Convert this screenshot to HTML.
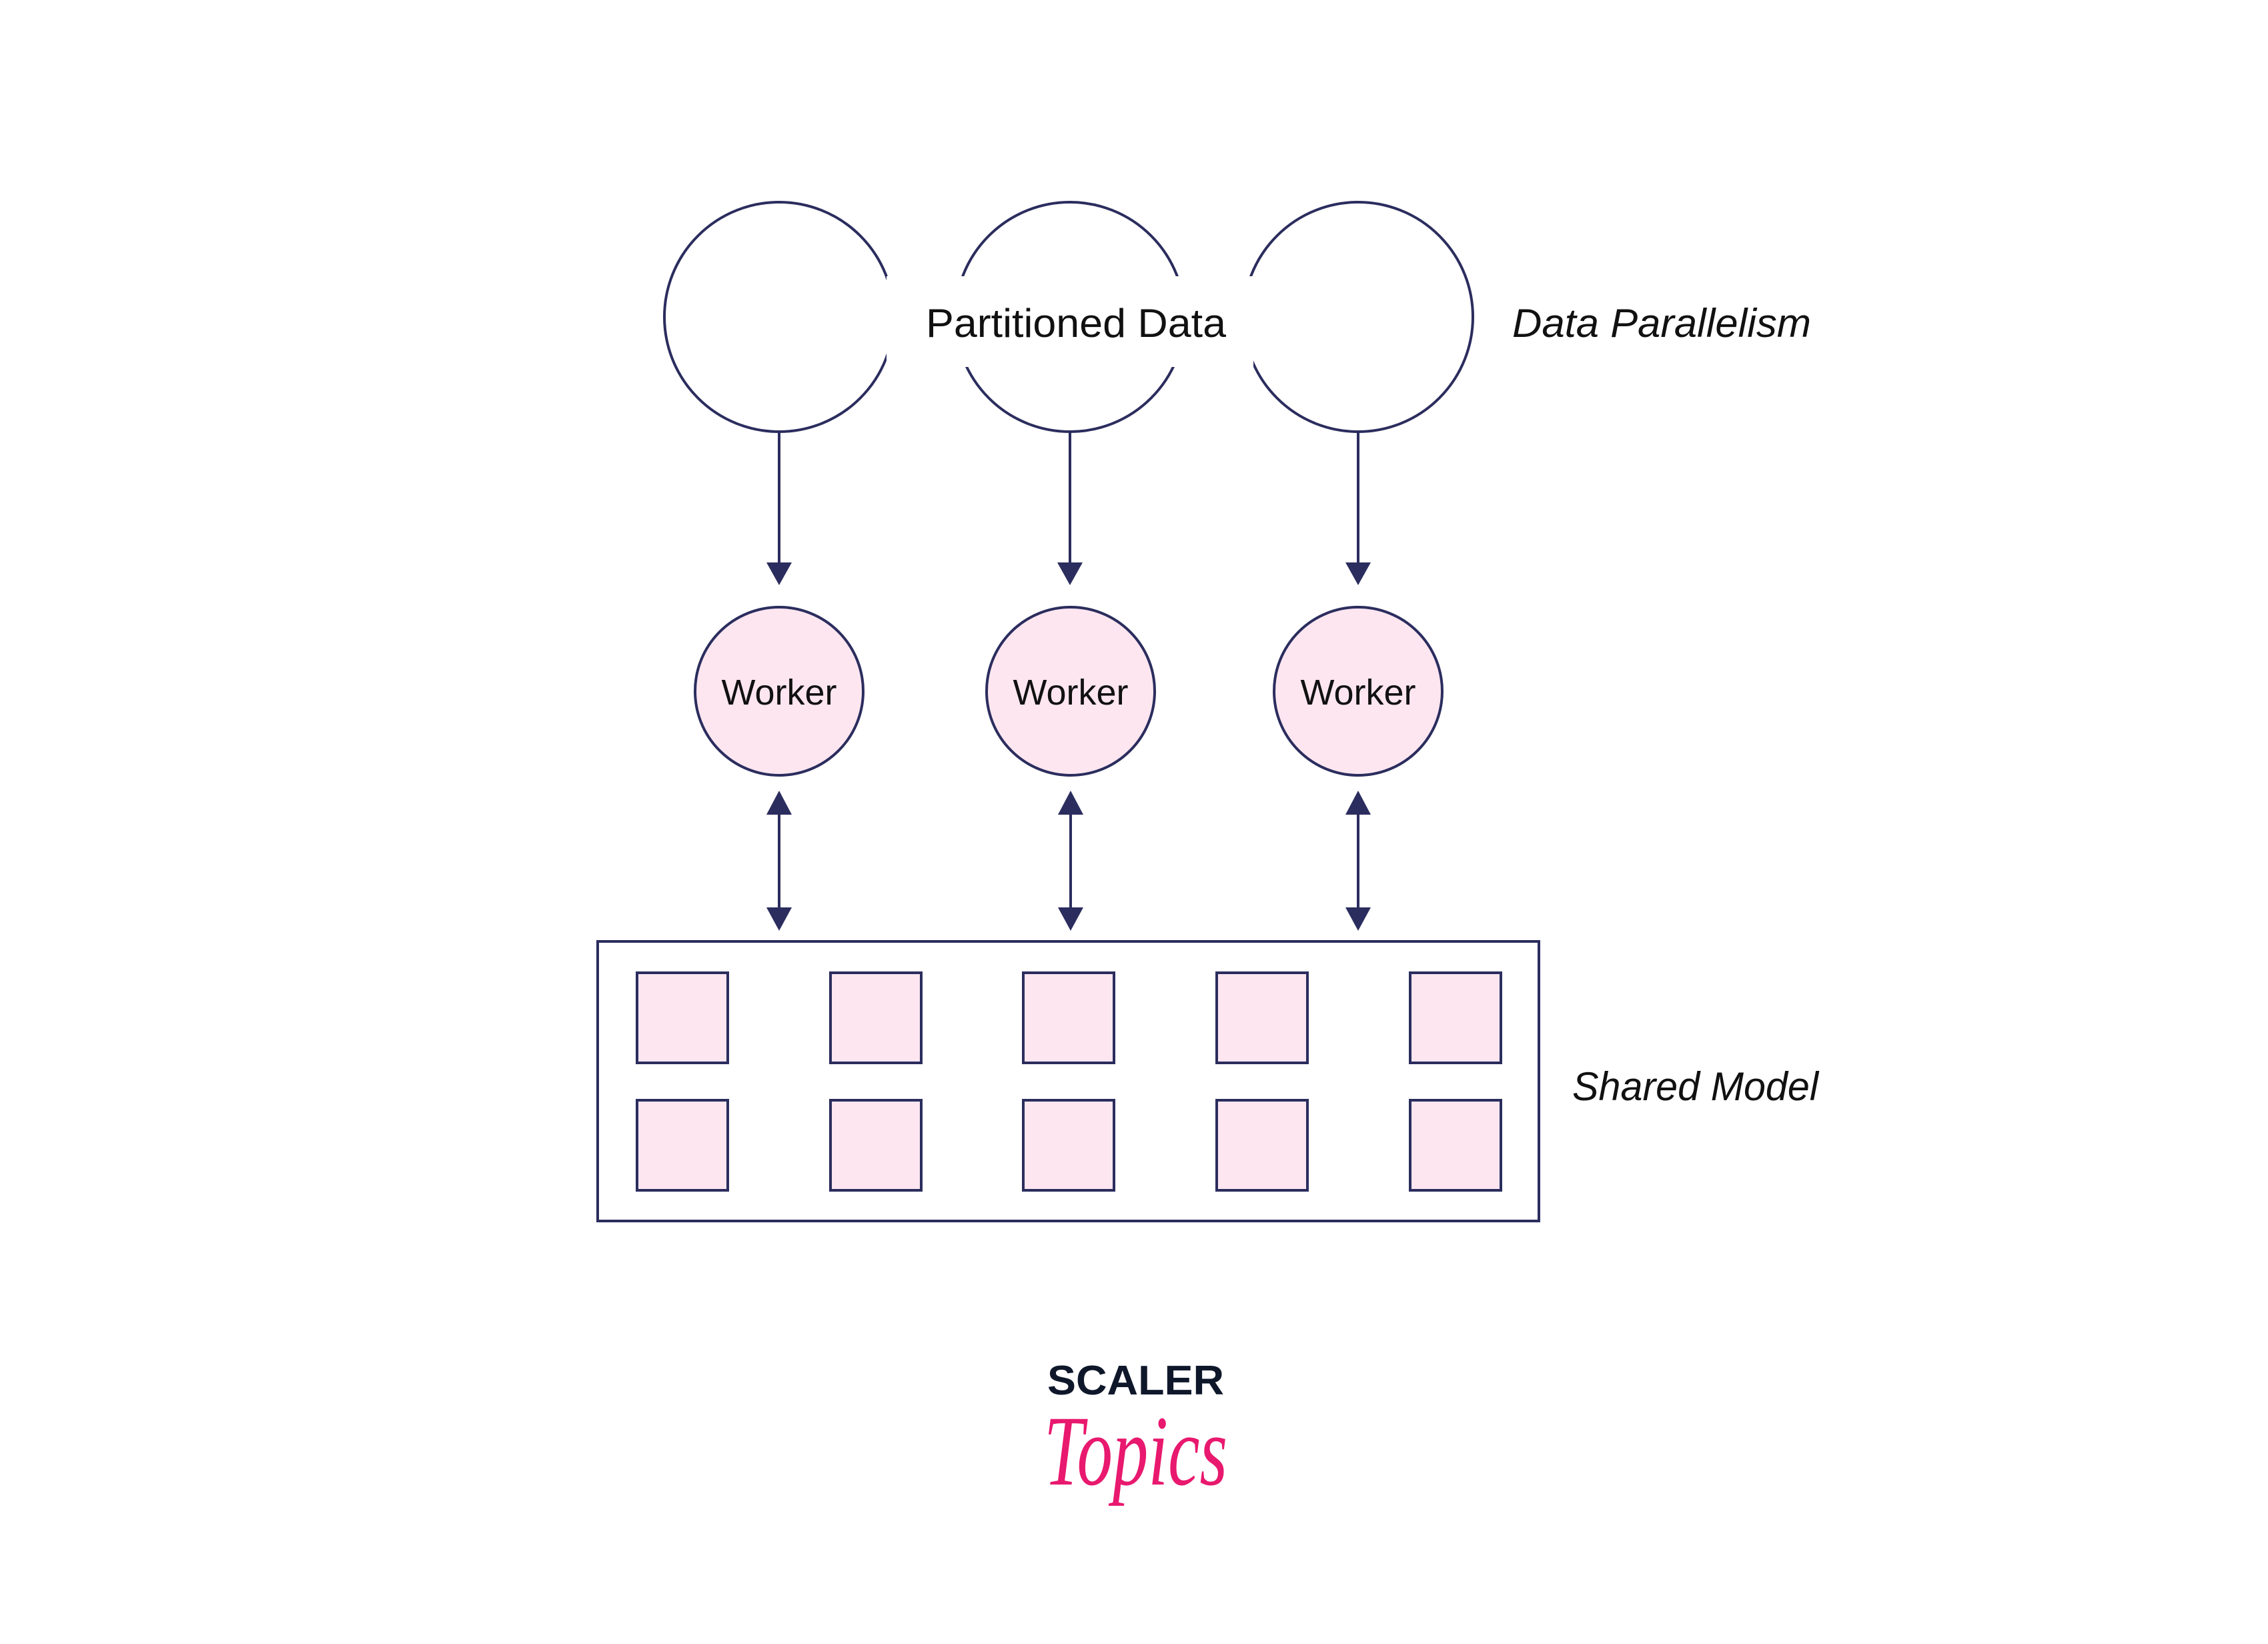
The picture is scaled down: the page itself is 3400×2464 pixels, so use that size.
<!DOCTYPE html>
<html><head><meta charset="utf-8"><style>
html,body{margin:0;padding:0;background:#fff;}
svg{display:block;}
</style></head><body>
<svg width="3400" height="2464" viewBox="0 0 3400 2464" xmlns="http://www.w3.org/2000/svg">
<defs>
<marker id="ah" viewBox="0 0 10 10" refX="10" refY="5" markerWidth="10" markerHeight="10" markerUnits="userSpaceOnUse" orient="auto-start-reverse">
</marker>
</defs>
<rect width="3400" height="2464" fill="#fff"/>
<g fill="none" stroke="#2b2d5e" stroke-width="4">
<circle cx="1168" cy="475" r="172"/>
<circle cx="1604" cy="475" r="172"/>
<circle cx="2036" cy="475" r="172"/>
</g>
<rect x="1329" y="414" width="550" height="136" fill="#fff"/>
<text x="1613" y="505" font-family="Liberation Sans, sans-serif" font-size="60" text-anchor="middle" textLength="450" lengthAdjust="spacingAndGlyphs" fill="#111">Partitioned Data</text>
<text x="2267" y="505" font-family="Liberation Sans, sans-serif" font-style="italic" font-size="60" textLength="448" lengthAdjust="spacingAndGlyphs" fill="#111">Data Parallelism</text>
<g stroke="#2b2d5e" stroke-width="4" fill="#2b2d5e">
<line x1="1168" y1="648" x2="1168" y2="845"/>
<line x1="1604" y1="648" x2="1604" y2="845"/>
<line x1="2036" y1="648" x2="2036" y2="845"/>
<polygon points="1149,843 1187,843 1168,877" stroke="none"/>
<polygon points="1585,843 1623,843 1604,877" stroke="none"/>
<polygon points="2017,843 2055,843 2036,877" stroke="none"/>
</g>
<g fill="#fde6f0" stroke="#2b2d5e" stroke-width="4">
<circle cx="1168" cy="1036" r="126"/>
<circle cx="1605" cy="1036" r="126"/>
<circle cx="2036" cy="1036" r="126"/>
</g>
<g font-family="Liberation Sans, sans-serif" font-size="54" text-anchor="middle" fill="#111">
<text x="1168" y="1056" textLength="173" lengthAdjust="spacingAndGlyphs">Worker</text>
<text x="1605" y="1056" textLength="173" lengthAdjust="spacingAndGlyphs">Worker</text>
<text x="2036" y="1056" textLength="173" lengthAdjust="spacingAndGlyphs">Worker</text>
</g>
<g stroke="#2b2d5e" stroke-width="4" fill="#2b2d5e">
<line x1="1168" y1="1215" x2="1168" y2="1365"/>
<line x1="1605" y1="1215" x2="1605" y2="1365"/>
<line x1="2036" y1="1215" x2="2036" y2="1365"/>
<polygon points="1168,1185 1187,1221 1149,1221" stroke="none"/>
<polygon points="1605,1185 1624,1221 1586,1221" stroke="none"/>
<polygon points="2036,1185 2055,1221 2017,1221" stroke="none"/>
<polygon points="1149,1360 1187,1360 1168,1395" stroke="none"/>
<polygon points="1586,1360 1624,1360 1605,1395" stroke="none"/>
<polygon points="2017,1360 2055,1360 2036,1395" stroke="none"/>
</g>
<rect x="896" y="1411" width="1411" height="419" fill="none" stroke="#2b2d5e" stroke-width="4"/>
<g fill="#fde6f0" stroke="#2b2d5e" stroke-width="4">
<rect x="955" y="1458" width="136" height="135"/>
<rect x="1245" y="1458" width="136" height="135"/>
<rect x="1534" y="1458" width="136" height="135"/>
<rect x="1824" y="1458" width="136" height="135"/>
<rect x="2114" y="1458" width="136" height="135"/>
<rect x="955" y="1649" width="136" height="135"/>
<rect x="1245" y="1649" width="136" height="135"/>
<rect x="1534" y="1649" width="136" height="135"/>
<rect x="1824" y="1649" width="136" height="135"/>
<rect x="2114" y="1649" width="136" height="135"/>
</g>
<text x="2357" y="1649" font-family="Liberation Sans, sans-serif" font-style="italic" font-size="60" textLength="369" lengthAdjust="spacingAndGlyphs" fill="#111">Shared Model</text>
<text x="1570" y="2090" font-family="Liberation Sans, sans-serif" font-weight="bold" font-size="62" textLength="265" lengthAdjust="spacingAndGlyphs" fill="#0f172a">SCALER</text>
<text x="1565" y="2225" font-family="Liberation Serif, serif" font-style="italic" font-size="150" textLength="275" lengthAdjust="spacingAndGlyphs" fill="#e8196e">Topics</text>
</svg>
</body></html>
